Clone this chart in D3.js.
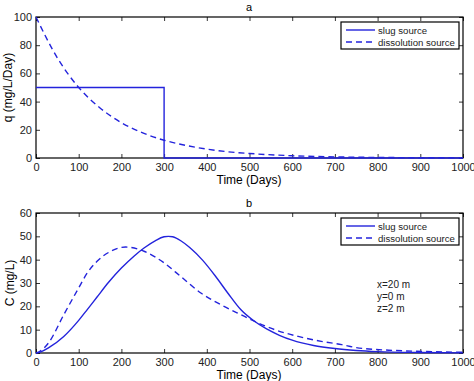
<!DOCTYPE html>
<html>
<head>
<meta charset="utf-8">
<script src="https://cdnjs.cloudflare.com/ajax/libs/d3/7.8.5/d3.min.js"></script>
<style>
  body { margin: 0; background: #fff; }
  svg { display: block; font-family: "Liberation Sans", Arial, sans-serif; }
</style>
</head>
<body>
<svg width="474" height="381"></svg>
<script>
// panel a: source terms q (mg/L/Day)
var slugQ = [[0, 50], [300, 50], [300, 0], [1000, 0]];
var dissT = [0, 50, 100, 150, 200, 250, 300, 350, 400, 450, 500, 600, 700, 800, 900, 1000];
var dissQ = [100, 71, 50, 35.5, 25, 17.8, 12.6, 9, 6.3, 4.4, 3.2, 1.6, 0.8, 0.4, 0.2, 0.1];

// panel b: concentration C (mg/L)
var slugT = [0, 10, 30, 65, 100, 120, 143, 170, 200, 230, 253, 280, 300, 310, 320, 340, 360, 390, 420, 450, 480, 510, 540, 570, 600, 650, 700, 750, 800, 900, 1000];
var slugC = [0, 0.4, 2.3, 7.1, 14, 18.6, 24, 30.3, 36.4, 41.6, 45, 48.2, 49.8, 50, 49.8, 48, 45.2, 39.8, 33, 25.5, 18.5, 13.8, 10.3, 7.6, 5.5, 3.2, 1.9, 1.1, 0.6, 0.2, 0.05];
var dissTb = [0, 10, 30, 65, 100, 120, 143, 174, 210, 253, 300, 339, 386, 433, 480, 520, 559, 614, 668, 716, 747, 826, 904, 1000];
var dissC = [0, 0.8, 4.5, 16.4, 27.9, 34.3, 39.3, 43.5, 45.4, 43.6, 38.6, 32.8, 25.7, 20.7, 16.4, 12.9, 10, 7.1, 5, 3.6, 2.4, 1.2, 0.7, 0.3];

var xTicks = [0, 100, 200, 300, 400, 500, 600, 700, 800, 900, 1000];
var legendNames = ['slug source', 'dissolution source'];
var posText = ['x=20 m', 'y=0 m', 'z=2 m'];

var blue = '#2323dc';
var svg = d3.select('svg');

function panel(opt) {
  var x = d3.scaleLinear().domain([0, 1000]).range([36, 463]);
  var y = d3.scaleLinear().domain([0, opt.ymax]).range([opt.bottom, opt.top]);
  var g = svg.append('g');

  // title
  g.append('text').attr('x', 249).attr('y', opt.titleY)
    .attr('text-anchor', 'middle').attr('font-size', 11).text(opt.title);

  // inward ticks on all four sides
  var tl = 4;
  g.append('g').attr('transform', `translate(0,${opt.bottom})`)
    .call(d3.axisBottom(x).tickValues(xTicks).tickFormat(d3.format('d'))
      .tickSizeInner(-tl).tickSizeOuter(0).tickPadding(5));
  g.append('g').attr('transform', `translate(0,${opt.top})`)
    .call(d3.axisTop(x).tickValues(xTicks).tickSizeInner(-tl).tickSizeOuter(0).tickFormat(''));
  g.append('g').attr('transform', 'translate(36,0)')
    .call(d3.axisLeft(y).tickValues(opt.yTicks).tickSizeInner(-tl).tickSizeOuter(0).tickPadding(4));
  g.append('g').attr('transform', 'translate(463,0)')
    .call(d3.axisRight(y).tickValues(opt.yTicks).tickSizeInner(-tl).tickSizeOuter(0).tickFormat(''));
  g.selectAll('.domain').remove();
  g.selectAll('.tick line').attr('stroke', '#000').attr('stroke-width', 0.8);
  g.selectAll('.tick text').attr('font-size', 11).attr('fill', '#222')
    .attr('font-family', '"Liberation Sans", Arial, sans-serif');

  // box
  g.append('rect').attr('x', 36).attr('y', opt.top)
    .attr('width', 427).attr('height', opt.bottom - opt.top)
    .attr('fill', 'none').attr('stroke', '#000').attr('stroke-width', 1.2);

  // axis labels
  g.append('text').attr('x', 249).attr('y', opt.bottom + 26)
    .attr('text-anchor', 'middle').attr('font-size', 12).text('Time (Days)');
  g.append('text')
    .attr('transform', `translate(${opt.ylabX},${(opt.top + opt.bottom) / 2}) rotate(-90)`)
    .attr('text-anchor', 'middle').attr('font-size', 12).text(opt.ylabel);

  // lines
  var line = d3.line().x(d => x(d[0])).y(d => y(d[1]));
  var smooth = d3.line().x(d => x(d[0])).y(d => y(d[1])).curve(d3.curveMonotoneX);
  g.append('path').datum(opt.solid).attr('d', opt.solidSmooth ? smooth : line)
    .attr('fill', 'none').attr('stroke', blue).attr('stroke-width', 1.4);
  g.append('path').datum(opt.dashed).attr('d', smooth)
    .attr('fill', 'none').attr('stroke', blue).attr('stroke-width', 1.4)
    .attr('stroke-dasharray', '6,4');

  // legend
  var lg = g.append('g');
  lg.append('rect').attr('x', 341).attr('y', opt.legTop)
    .attr('width', 118).attr('height', 27)
    .attr('fill', '#fff').attr('stroke', '#000').attr('stroke-width', 1.2);
  legendNames.forEach(function(name, i) {
    var yy = opt.legTop + 8 + i * 12;
    lg.append('line').attr('x1', 346).attr('x2', 375).attr('y1', yy).attr('y2', yy)
      .attr('stroke', blue).attr('stroke-width', 1.4)
      .attr('stroke-dasharray', i === 1 ? '6,4' : null);
    lg.append('text').attr('x', 378).attr('y', yy + 3.5)
      .attr('font-size', 9.6).attr('fill', '#222').text(name);
  });
  return g;
}

panel({
  title: 'a', titleY: 11, top: 17, bottom: 158, ymax: 100, yTicks: [0, 20, 40, 60, 80, 100],
  ylabel: 'q (mg/L/Day)', ylabX: 12,
  solid: slugQ, solidSmooth: false,
  dashed: dissT.map((t, i) => [t, dissQ[i]]),
  legTop: 22
});

var gb = panel({
  title: 'b', titleY: 207, top: 213, bottom: 353, ymax: 60, yTicks: [0, 10, 20, 30, 40, 50, 60],
  ylabel: 'C (mg/L)', ylabX: 14,
  solid: slugT.map((t, i) => [t, slugC[i]]), solidSmooth: true,
  dashed: dissTb.map((t, i) => [t, dissC[i]]),
  legTop: 218
});

posText.forEach(function(s, i) {
  gb.append('text').attr('x', 377).attr('y', 288 + i * 12)
    .attr('font-size', 10).attr('fill', '#222').text(s);
});
</script>
</body>
</html>
